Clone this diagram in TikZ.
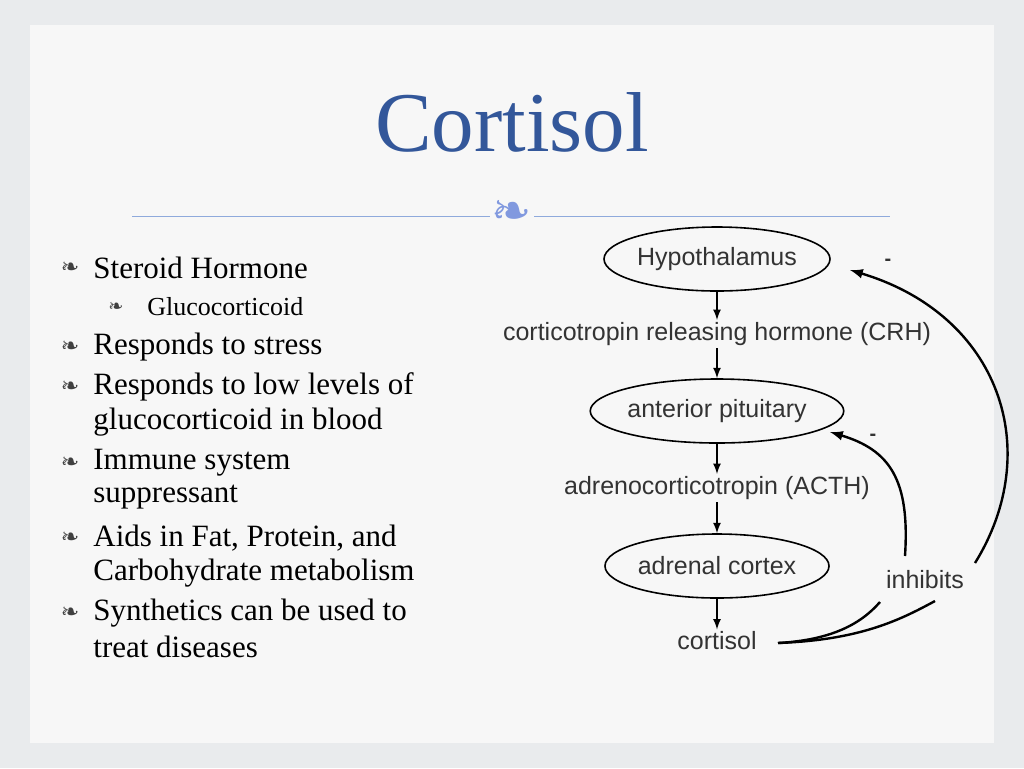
\documentclass[tikz,border=0pt]{standalone}
\usepackage{fontspec}
\setmainfont{Liberation Serif}
\newfontfamily\diagfont{Liberation Sans}
\newfontfamily\symfont{DejaVu Sans}
\usetikzlibrary{arrows,shapes,positioning,calc}
\definecolor{slidebg}{HTML}{E9EBED}
\definecolor{titleblue}{HTML}{33579A}
\definecolor{rulecol}{HTML}{8FAADC}
\begin{document}
\begin{tikzpicture}[
    x=0.5pt, y=-0.5pt,
    % organ nodes
    organ/.style={ellipse, draw=black, thick, minimum width=106pt, minimum height=32pt,
        inner sep=0pt, font=\diagfont\fontsize{12.5}{13}\selectfont, text=black!80},
    % hormone labels
    hormone/.style={font=\diagfont\fontsize{12.5}{13}\selectfont, text=black!80, inner sep=1pt},
    flow/.style={-latex, thick},
    feedback/.style={-latex, very thick},
    % bullet lines
    item/.style={anchor=west, font=\fontsize{15.5}{17}\selectfont, inner sep=0pt},
    subitem/.style={anchor=west, font=\fontsize{13}{14}\selectfont, inner sep=0pt},
    bulletmark/.style={font=\symfont\fontsize{11}{12}\selectfont, text=black!75, inner sep=0pt}
]
\useasboundingbox (0,0) rectangle (1024,768);
\fill[slidebg] (0,0) rectangle (1024,768);
\fill[gray!6] (30,25) rectangle (994,743);

% title
\node[font=\fontsize{42.5}{46}\selectfont, text=titleblue] (title) at (512,122) {Cortisol};
\draw[rulecol] (132,216) -- (890,216);
\node[font=\symfont\fontsize{24}{26}\selectfont, text=rulecol!90!blue, fill=gray!6, inner sep=1pt] (orn) at (512,214) {❧};

% bullet list
\foreach \y/\t in {268/Steroid Hormone, 347/Responds to stress, 387/Responds to low levels of,
                   463/Immune system, 538/{Aids in Fat, Protein, and}, 613/Synthetics can be used to} {
  \node[bulletmark] at (70,\y) {❧};
  \node[item] at (93,\y) {\t};
}
\foreach \y/\t in {422/glucocorticoid in blood, 497/suppressant, 573/Carbohydrate metabolism, 647/treat diseases}
  \node[item] at (93,\y) {\t};
\node[bulletmark, font=\symfont\fontsize{9}{10}\selectfont] at (116,307) {❧};
\node[subitem] at (147,307) {Glucocorticoid};

% axis
\node[organ] (hyp) at (717,259) {Hypothalamus};
\node[hormone] (crh) at (717,334) {corticotropin releasing hormone (CRH)};
\node[organ] (pit) at (717,411) {anterior pituitary};
\node[hormone] (acth) at (717,488) {adrenocorticotropin (ACTH)};
\node[organ] (adr) at (717,566) {adrenal cortex};
\node[hormone] (cort) at (717,641) {cortisol};
\node[hormone] (inh) at (925,580) {inhibits};
\node[hormone, font=\diagfont\bfseries] (m1) at (888,262) {-};
\node[hormone, font=\diagfont\bfseries] (m2) at (873,437) {-};

\draw[flow] (hyp) -- (crh);
\draw[flow] (crh) -- (pit);
\draw[flow] (pit) -- (acth);
\draw[flow] (acth) -- (adr);
\draw[flow] (adr) -- (cort);

% feedback
\coordinate (c0) at (778,643);
\coordinate (a1) at (880,602);
\coordinate (a2) at (935,601);
\coordinate (b1) at (905,556);
\coordinate (b2) at (975,563);
\draw[very thick] (c0) .. controls (830,640) and (860,625) .. (a1);
\draw[very thick] (c0) .. controls (860,640) and (900,620) .. (a2);
\draw[feedback] (b1) .. controls (910,480) and (890,450) .. (830,432);
\draw[feedback] (b2) .. controls (1045,450) and (1000,315) .. (850,270);
\end{tikzpicture}
\end{document}
